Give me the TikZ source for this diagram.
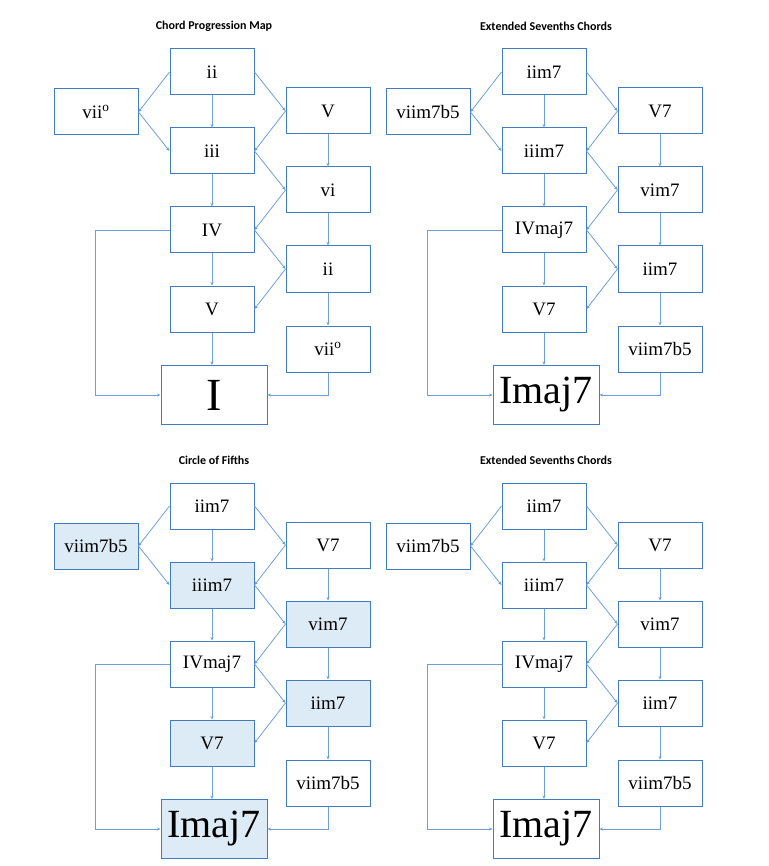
\documentclass[tikz,border=0pt]{standalone}
\usepackage{fontspec}
\setmainfont{Liberation Serif}
\newfontfamily\titlefont{Carlito}
\usetikzlibrary{arrows.meta}
\definecolor{bx}{RGB}{65,125,190}
\definecolor{ar}{RGB}{110,160,215}
\definecolor{hl}{RGB}{221,235,247}
\tikzset{
 cbox/.style={draw=bx,line width=1pt,minimum width=84pt,minimum height=46pt,inner sep=0pt,font=\fontsize{19}{20}\selectfont,fill=white},
 bigbox/.style={cbox,minimum width=106pt,minimum height=59pt},
 hi/.style={fill=hl},
 conn/.style={draw=ar,line width=0.8pt,-{Stealth[length=3.5pt,width=3pt]}},
 ttl/.style={font=\titlefont\bfseries\fontsize{12}{13}\selectfont}
}
\newcommand\chordmap[4]{%
 \begin{scope}[shift={(#2,#3)}]
 \node[ttl] (#1t) at (214,26) {#4};
 \node[cbox,\Sa] (#1a) at (212,72) {\La};
 \node[cbox,\Sb] (#1b) at (96,112) {\Lb};
 \node[cbox,\Sc] (#1c) at (328,111) {\Lc};
 \node[cbox,\Sd] (#1d) at (212,151) {\Ld};
 \node[cbox,\Se] (#1e) at (328,190) {\Le};
 \node[cbox,\Sf] (#1f) at (212,230) {\Lf};
 \node[cbox,\Sg] (#1g) at (328,269) {\Lg};
 \node[cbox,\Sh] (#1h) at (212,309) {\Lh};
 \node[cbox,\Si] (#1i) at (328,349) {\Li};
 \node[bigbox,\Sj,font=\fontsize{\Fj}{\Fj}\selectfont] (#1j) at (214,395) {\Lj};
 \coordinate (#1p) at (95,230);
 \coordinate (#1q) at (95,395);
 \coordinate (#1r) at (328,395);
 \draw[conn] (#1a.west) -- (#1b.east);
 \draw[conn] (#1a.east) -- (#1c.west);
 \draw[conn] (#1b.east) -- (#1d.west);
 \draw[conn] (#1c.west) -- (#1d.east);
 \draw[conn] (#1d.east) -- (#1e.west);
 \draw[conn] (#1e.west) -- (#1f.east);
 \draw[conn] (#1f.east) -- (#1g.west);
 \draw[conn] (#1g.west) -- (#1h.east);
 \draw[conn] (#1a) -- (#1d);
 \draw[conn] (#1d) -- (#1f);
 \draw[conn] (#1f) -- (#1h);
 \draw[conn] (#1h) -- (#1h |- #1j.north);
 \draw[conn] (#1c) -- (#1e);
 \draw[conn] (#1e) -- (#1g);
 \draw[conn] (#1g) -- (#1i);
 \draw[conn] (#1f.west) -- (#1p) -- (#1q) -- (#1j.west);
 \draw[conn] (#1i.south) -- (#1r) -- (#1j.east);
 \end{scope}}
\newcommand\plainstyles{\def\Sa{}\def\Sb{}\def\Sc{}\def\Sd{}\def\Se{}\def\Sf{}\def\Sg{}\def\Sh{}\def\Si{}\def\Sj{}}
\newcommand\sevlabels{\def\La{iim7}\def\Lb{viim7b5}\def\Lc{V7}\def\Ld{iiim7}\def\Le{vim7}\def\Lf{IVmaj7}\def\Lg{iim7}\def\Lh{V7}\def\Li{viim7b5}\def\Lj{Imaj7}\def\Fj{40}}
\begin{document}
\begin{tikzpicture}[x=1pt,y=-1pt]
\useasboundingbox (0,0) rectangle (768,866);
\plainstyles
\def\La{ii}\def\Lb{vii\textsuperscript{o}}\def\Lc{V}\def\Ld{iii}\def\Le{vi}\def\Lf{IV}\def\Lg{ii}\def\Lh{V}\def\Li{vii\textsuperscript{o}}\def\Lj{I}\def\Fj{46}
\chordmap{A}{0}{0}{Chord Progression Map}
\sevlabels
\chordmap{B}{332}{0}{Extended Sevenths Chords}
\chordmap{D}{332}{434}{Extended Sevenths Chords}
\def\Sb{hi}\def\Sd{hi}\def\Se{hi}\def\Sg{hi}\def\Sh{hi}\def\Sj{hi}
\chordmap{C}{0}{434}{Circle of Fifths}
\end{tikzpicture}
\end{document}
